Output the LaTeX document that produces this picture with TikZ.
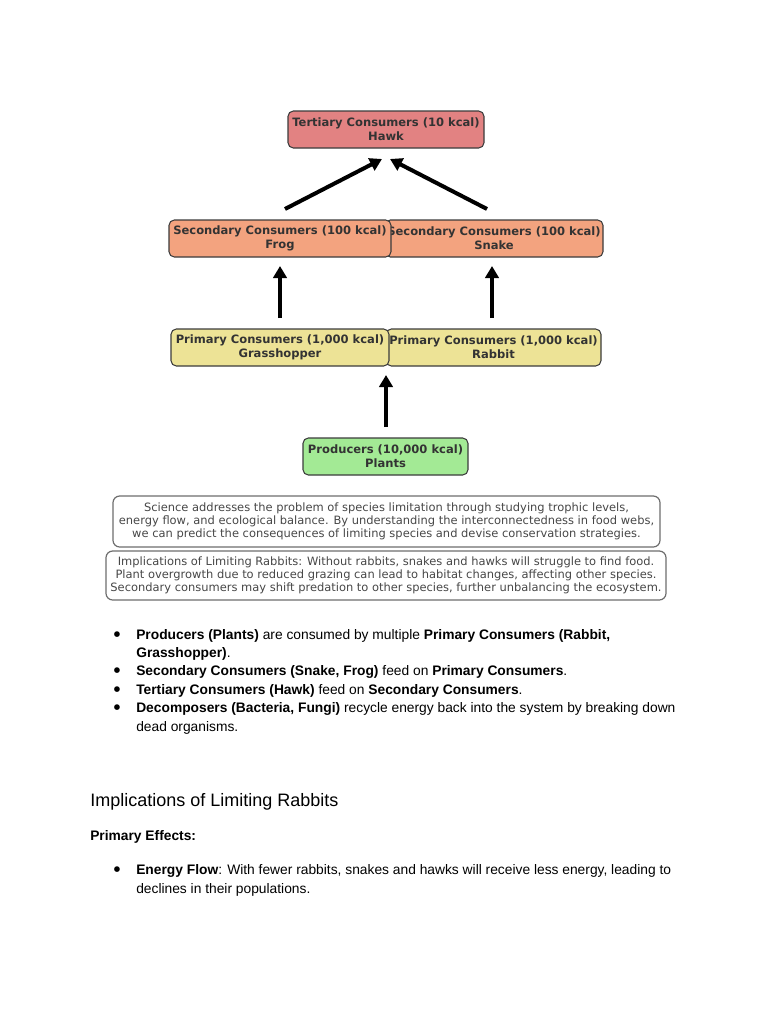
\documentclass[tikz,border=0pt]{standalone}
\usepackage{fontspec}
\setmainfont{Liberation Sans}
\newfontfamily\djv{DejaVu Sans}
\usetikzlibrary{arrows.meta}
\definecolor{hawkc}{RGB}{226,130,130}
\definecolor{secc}{RGB}{243,163,127}
\definecolor{primc}{RGB}{237,227,150}
\definecolor{prodc}{RGB}{163,234,149}
\definecolor{edgec}{RGB}{60,60,60}
\definecolor{notec}{RGB}{110,110,110}
\begin{document}
\begin{tikzpicture}[x=0.75pt,y=-0.75pt,
  lvl/.style={draw=edgec, line width=0.8pt, rounded corners=4pt,
    font=\djv\bfseries\fontsize{8.65}{10.5}\selectfont, text=black!80,
    align=center, inner sep=0pt},
  note/.style={draw=notec, line width=0.9pt, rounded corners=5pt,
    font=\djv\fontsize{8.6}{9.75}\selectfont, text=black!72,
    align=center, inner sep=0pt},
  flow/.style={line width=3pt, -{Triangle[length=9pt,width=10pt]}},
  body/.style={anchor=base west, font=\fontsize{10.35}{12}\selectfont, inner sep=0pt},
  bul/.style={font=\djv\fontsize{5.5}{6}\selectfont, inner sep=0pt}
]
\useasboundingbox (0,0) rectangle (768,1024);
\fill[white] (0,0) rectangle (768,1024);

% level boxes
\node[lvl, fill=hawkc, minimum width=147pt, minimum height=27.75pt] (hawk) at (386,129.5)
  {Tertiary Consumers (10 kcal)\\Hawk};
\node[lvl, fill=secc, minimum width=163.5pt, minimum height=27.75pt] (snake) at (494,238.5)
  {Secondary Consumers (100 kcal)\\Snake};
\node[lvl, fill=secc, minimum width=166.5pt, minimum height=27.75pt] (frog) at (280,238.5)
  {Secondary Consumers (100 kcal)\\Frog};
\node[lvl, fill=primc, minimum width=161.25pt, minimum height=27.75pt] (rabbit) at (493.5,347.5)
  {Primary Consumers (1,000 kcal)\\Rabbit};
\node[lvl, fill=primc, minimum width=163.5pt, minimum height=27.75pt] (grass) at (280,347.5)
  {Primary Consumers (1,000 kcal)\\Grasshopper};
\node[lvl, fill=prodc, minimum width=123.75pt, minimum height=27.75pt] (plants) at (385.5,456.5)
  {Producers (10,000 kcal)\\Plants};

% arrow ends
\coordinate (frogtail) at (285,209);
\coordinate (froghead) at (382,159);
\coordinate (snaketail) at (487,209);
\coordinate (snakehead) at (390,159);
\coordinate (gtail) at (280,318);
\coordinate (ghead) at (280,266);
\coordinate (rtail) at (492,318);
\coordinate (rhead) at (492,266);
\coordinate (ptail) at (386,427);
\coordinate (phead) at (386,375);

\draw[flow] (frogtail) -- (froghead);
\draw[flow] (snaketail) -- (snakehead);
\draw[flow] (gtail) -- (ghead);
\draw[flow] (rtail) -- (rhead);
\draw[flow] (ptail) -- (phead);

% notes
\node[note, minimum width=410.25pt, minimum height=38.25pt] (sci) at (386.5,521.5)
  {Science addresses the problem of species limitation through studying trophic levels,\\
   energy flow, and ecological balance. By understanding the interconnectedness in food webs,\\
   we can predict the consequences of limiting species and devise conservation strategies.};
\node[note, minimum width=420pt, minimum height=36.75pt] (impl) at (386,575.5)
  {Implications of Limiting Rabbits: Without rabbits, snakes and hawks will struggle to find food.\\
   Plant overgrowth due to reduced grazing can lead to habitat changes, affecting other species.\\
   Secondary consumers may shift predation to other species, further unbalancing the ecosystem.};

% bullet list
\node[bul] (b1) at (117,634.5) {●};
\node[body] (l1) at (136,639) {\textbf{Producers (Plants)} are consumed by multiple \textbf{Primary Consumers (Rabbit,}};
\node[body] (l1b) at (136,657.5) {\textbf{Grasshopper)}.};
\node[bul] (b2) at (117,671) {●};
\node[body] (l2) at (136,675.5) {\textbf{Secondary Consumers (Snake, Frog)} feed on \textbf{Primary Consumers}.};
\node[bul] (b3) at (117,689.5) {●};
\node[body] (l3) at (136,694) {\textbf{Tertiary Consumers (Hawk)} feed on \textbf{Secondary Consumers}.};
\node[bul] (b4) at (117,708) {●};
\node[body] (l4) at (136,712.5) {\textbf{Decomposers (Bacteria, Fungi)} recycle energy back into the system by breaking down};
\node[body] (l4b) at (136,731) {dead organisms.};

% heading
\node[anchor=base west, inner sep=0pt, font=\fontsize{13.5}{15}\selectfont] (head) at (90,806)
  {Implications of Limiting Rabbits};
\node[body] (pe) at (90,840) {\textbf{Primary Effects:}};
\node[bul] (b5) at (117,870) {●};
\node[body] (e1) at (136,874.5) {\textbf{Energy Flow}: With fewer rabbits, snakes and hawks will receive less energy, leading to};
\node[body] (e1b) at (136,893) {declines in their populations.};
\end{tikzpicture}
\end{document}
